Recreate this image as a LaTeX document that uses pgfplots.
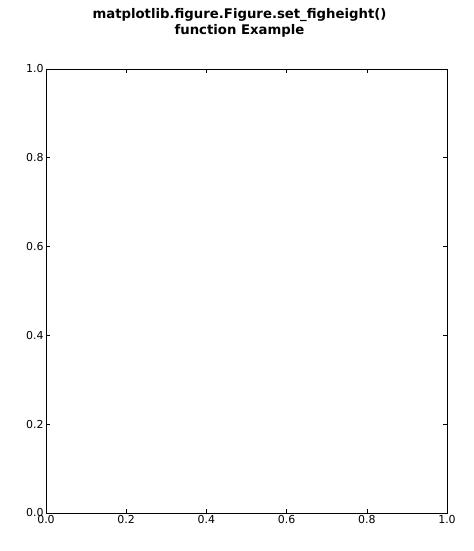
\documentclass[border=0pt]{standalone}
\usepackage{pgfplots}
\pgfplotsset{compat=1.18}
\usepackage{fontspec}
\setmainfont{DejaVu Sans}
\begin{document}
\begin{tikzpicture}
\useasboundingbox (0,0) rectangle (474bp,551bp);
\begin{axis}[
	at={(46bp,38bp)}, anchor=south west,
	scale only axis,
	width=401bp, height=444bp,
	xmin=0, xmax=1, ymin=0, ymax=1,
	xtick={0,0.2,...,1.0}, ytick={0,0.2,...,1.0},
	tick align=inside,
	major tick length=4bp,
	tick style={black, line width=0.6pt},
	axis line style={line width=0.8pt},
	xticklabel style={font=\fontsize{11}{13}\selectfont},
	yticklabel style={font=\fontsize{11}{13}\selectfont},
	/pgf/number format/assume math mode=true,
	/pgf/number format/fixed, /pgf/number format/fixed zerofill,
	/pgf/number format/precision=1,
	xticklabel shift=-1bp,
	yticklabel shift=-1bp,
	title={matplotlib.figure.Figure.set\_figheight()\\function Example},
	title style={font=\bfseries\fontsize{13.3}{16}\selectfont, align=center, at={(0.5,1.0)}, yshift=22bp, xshift=-7bp},
]
\addplot[draw=none, forget plot] coordinates {(0,0)};
\end{axis}
\end{tikzpicture}
\end{document}
